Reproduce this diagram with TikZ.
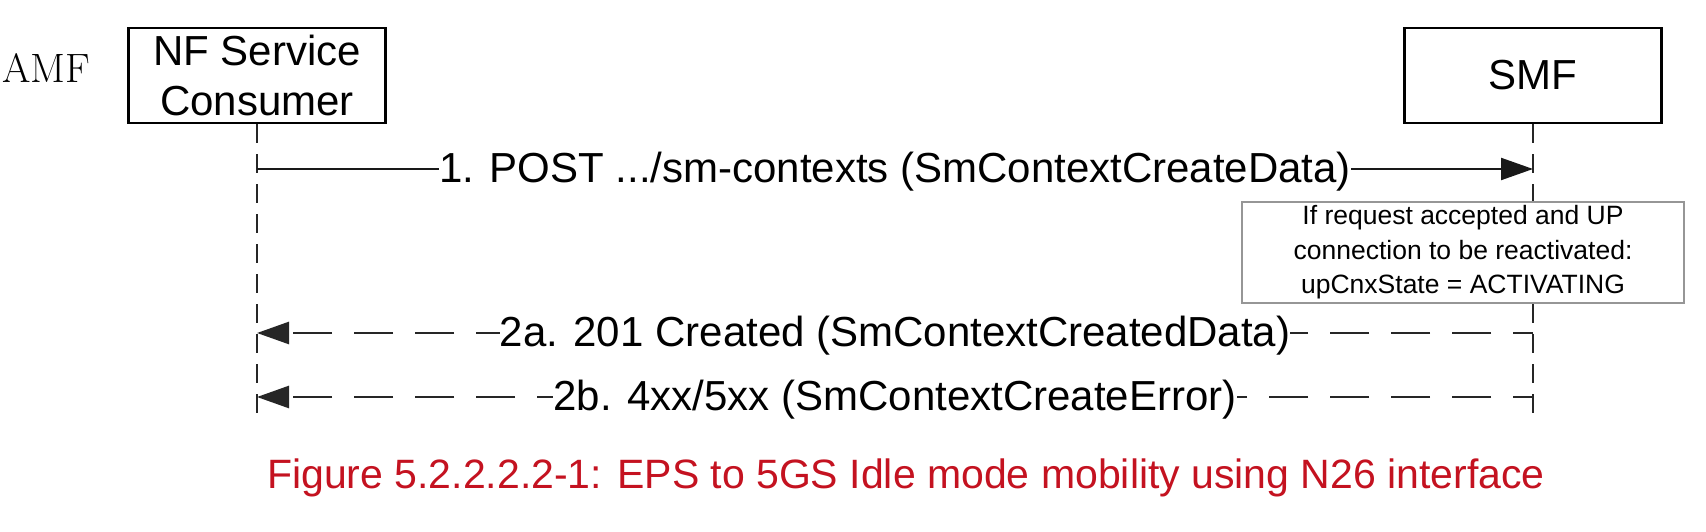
\documentclass[tikz,border=0pt]{standalone}
\usepackage{fontspec}
\newfontfamily\arialf{Liberation Sans}
\usetikzlibrary{arrows.meta}
\definecolor{capred}{RGB}{196,18,32}
\definecolor{notegray}{RGB}{150,150,150}
\begin{document}
\begin{tikzpicture}[x=1pt,y=-1pt,
  actor/.style={draw=black, line width=2.8pt, minimum width=257pt, minimum height=95pt,
    inner sep=0pt, align=center, font=\arialf\fontsize{42}{50}\selectfont},
  lifeline/.style={line width=2.8pt, draw=black!85, dash pattern=on 19pt off 11pt},
  solidmsg/.style={line width=2.2pt, draw=black!90, -{Triangle[length=32pt,width=22pt]}},
  dashmsg/.style={line width=2.6pt, draw=black!85, dash pattern=on 39pt off 22pt, dash phase=19pt,
    -{Triangle[length=32pt,width=22pt]}},
  lbl/.style={fill=white, inner xsep=0pt, inner ysep=2pt, anchor=base, yshift=-13.5pt,
    font=\arialf\fontsize{42}{50}\selectfont},
  notebox/.style={draw=notegray, line width=1.4pt, fill=white, minimum width=442pt, minimum height=101pt,
    inner sep=0pt, align=center, font=\arialf\fontsize{26.5}{34.5}\selectfont},
]
\useasboundingbox (0,0) rectangle (1706,532);
\fill[white] (0,0) rectangle (1706,532);

\node[anchor=base west, inner sep=0pt, font=\fontsize{41}{41}\selectfont] (amf) at (2,83) {AMF};

\node[actor] (nfc) at (257,75.5) {NF Service\\Consumer};
\node[actor] (smf) at (1533,75.5) {SMF};

\coordinate (nfcEnd) at (257,418);
\coordinate (smfEnd) at (1533,418);
\draw[lifeline] (nfc.south) -- (nfcEnd);
\draw[lifeline] (smf.south) -- (smfEnd);

\coordinate (m1s) at (257,169);
\coordinate (m1e) at (1533,169);
\draw[solidmsg] (m1s) -- (m1e) node[lbl, midway] (l1) {1. POST .../sm-contexts (SmContextCreateData)};

\node[notebox] (note) at (1463,252.5) {If request accepted and UP\\connection to be reactivated:\\upCnxState = ACTIVATING};

\coordinate (m2as) at (1533,333);
\coordinate (m2ae) at (257,333);
\draw[dashmsg] (m2as) -- (m2ae) node[lbl, midway] (l2a) {2a. 201 Created (SmContextCreatedData)};

\coordinate (m2bs) at (1533,397);
\coordinate (m2be) at (257,397);
\draw[dashmsg] (m2bs) -- (m2be) node[lbl, midway] (l2b) {2b. 4xx/5xx (SmContextCreateError)};

\node[anchor=base, inner sep=0pt, text=capred, font=\arialf\fontsize{41}{41}\selectfont] (cap) at (906,488)
  {Figure 5.2.2.2.2-1: EPS to 5GS Idle mode mobility using N26 interface};
\end{tikzpicture}
\end{document}
